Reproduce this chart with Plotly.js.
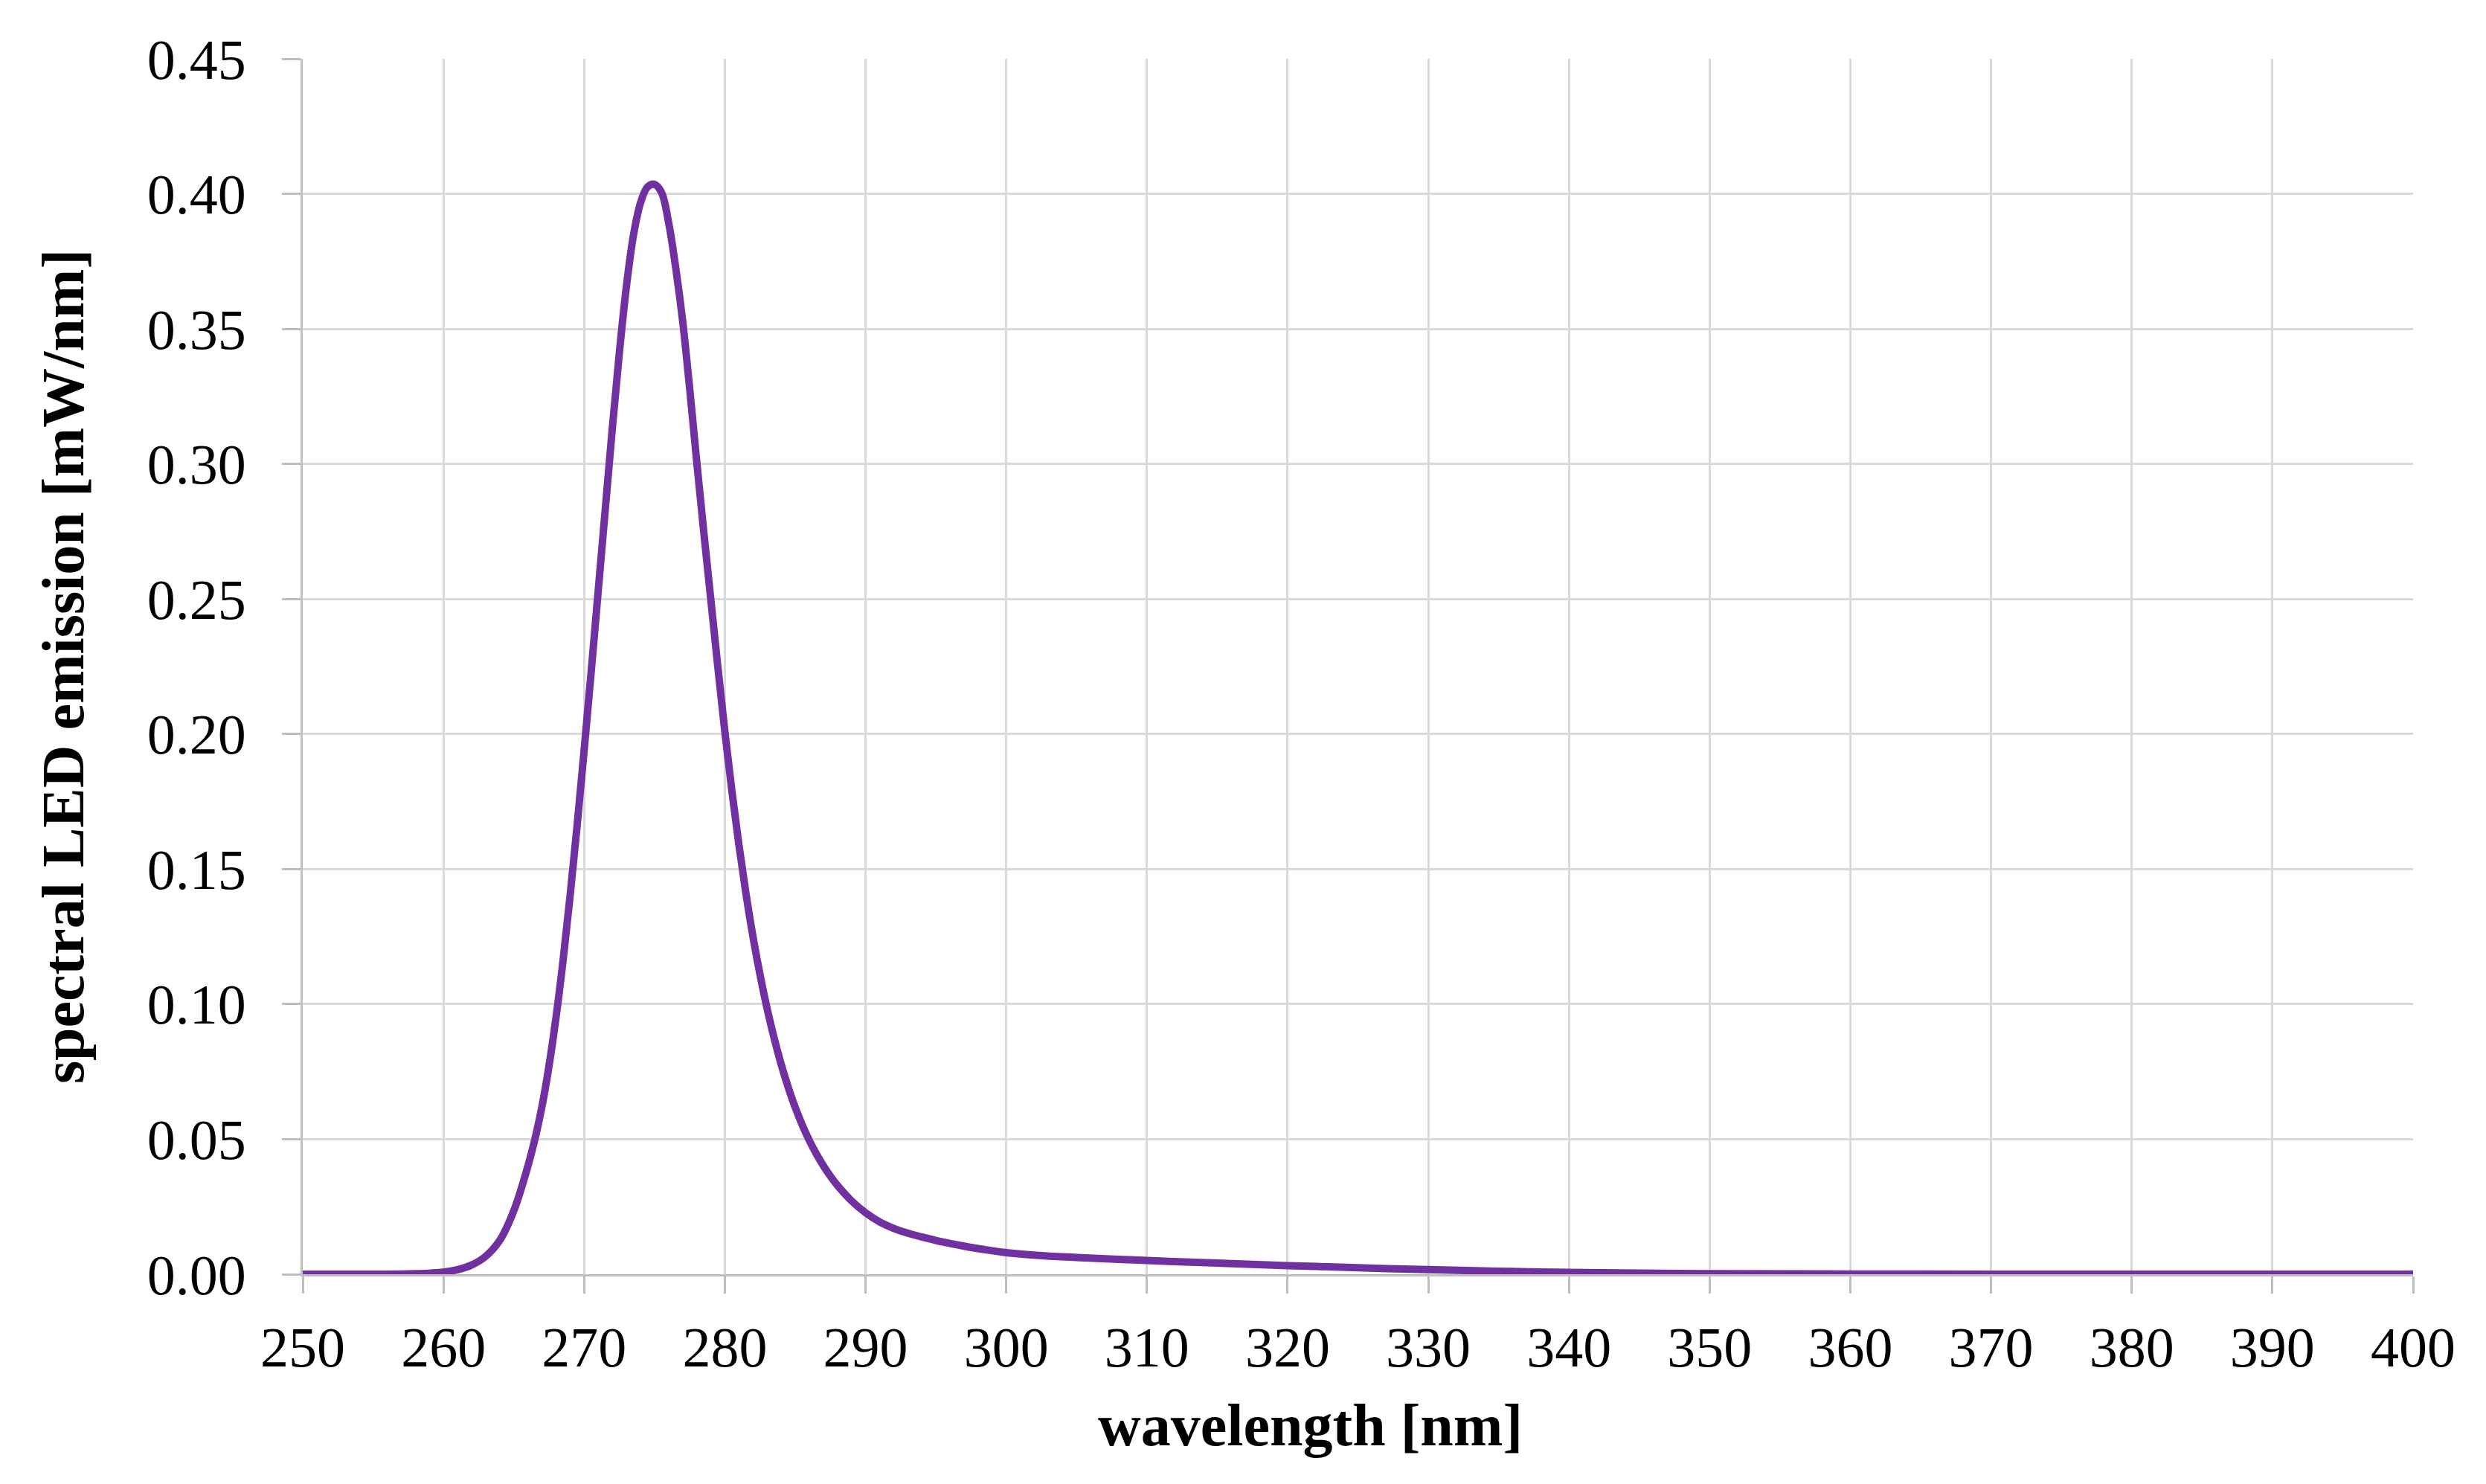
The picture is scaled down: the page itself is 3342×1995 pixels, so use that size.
<!DOCTYPE html>
<html>
<head>
<meta charset="utf-8">
<script src="https://cdn.plot.ly/plotly-3.0.1.min.js"></script>
<style>html,body{margin:0;padding:0;background:#fff;}#chart{width:3342px;height:1995px;}</style>
</head>
<body>
<div id="chart"></div>
<script>
// wavelength [nm]
const wavelength = [250, 255, 258, 260, 261, 262, 263, 264, 265, 266, 266.5, 267, 267.5, 268, 268.5, 269, 269.5, 270, 270.5, 271, 271.5, 272, 272.5, 273, 273.5, 274, 274.5, 275, 275.5, 276, 276.5, 277, 277.5, 278, 278.5, 279, 279.5, 280, 280.5, 281, 281.5, 282, 282.5, 283, 283.5, 284, 284.5, 285, 285.5, 286, 286.5, 287, 287.5, 288, 289, 290, 291, 292, 293, 294, 295, 296, 297, 298, 299, 300, 302.5, 305, 310, 315, 320, 325, 330, 335, 340, 345, 350, 360, 370, 380, 390, 400];
// spectral LED emission [mW/nm]
const emission = [0, 0, 0.0002, 0.0008, 0.0017, 0.0034, 0.0066, 0.0125, 0.0235, 0.040, 0.050, 0.062, 0.077, 0.095, 0.116, 0.140, 0.166, 0.194, 0.223, 0.253, 0.283, 0.313, 0.341, 0.3655, 0.3845, 0.3965, 0.4025, 0.4035, 0.4005, 0.3895, 0.373, 0.353, 0.328, 0.301, 0.275, 0.250, 0.225, 0.201, 0.179, 0.159, 0.141, 0.125, 0.111, 0.0985, 0.0875, 0.0778, 0.0693, 0.0618, 0.0553, 0.0496, 0.0446, 0.0402, 0.0363, 0.0329, 0.0272, 0.0228, 0.0194, 0.0170, 0.0152, 0.0138, 0.0125, 0.0114, 0.0104, 0.0095, 0.0087, 0.0080, 0.0069, 0.0062, 0.0051, 0.0041, 0.0032, 0.0024, 0.0017, 0.0011, 0.0007, 0.0004, 0.0002, 0.0001, 0, 0, 0, 0];
const xTitle = "wavelength [nm]";
const yTitle = "spectral LED emission [mW/nm]";

const trace = {
  x: wavelength,
  y: emission,
  type: "scatter",
  mode: "lines",
  line: {color: "#7030a0", width: 10, shape: "spline", smoothing: 1},
  hoverinfo: "x+y"
};

const gridCol = "#d9d9d9";
const axisCol = "#bfbfbf";
const tickFont = {family: "Liberation Serif, Times New Roman, serif", size: 76, color: "#000"};
const titleFont = {family: "Liberation Serif, Times New Roman, serif", size: 80, color: "#000", weight: "bold"};

const layout = {
  width: 3342,
  height: 1995,
  margin: {l: 407, r: 98, t: 79, b: 282},
  paper_bgcolor: "#fff",
  plot_bgcolor: "#fff",
  showlegend: false,
  xaxis: {
    range: [250, 400],
    dtick: 10,
    tick0: 250,
    showgrid: true,
    gridcolor: gridCol,
    gridwidth: 3,
    zeroline: false,
    showline: true,
    linecolor: axisCol,
    linewidth: 3,
    ticks: "outside",
    ticklen: 23,
    tickwidth: 3,
    tickcolor: axisCol,
    ticklabelstandoff: 7,
    tickfont: tickFont
  },
  yaxis: {
    range: [0, 0.45],
    dtick: 0.05,
    tick0: 0,
    tickformat: ".2f",
    showgrid: true,
    gridcolor: gridCol,
    gridwidth: 3,
    zeroline: false,
    showline: true,
    linecolor: axisCol,
    linewidth: 3,
    ticks: "outside",
    ticklen: 25,
    tickwidth: 3,
    tickcolor: axisCol,
    ticklabelstandoff: 33,
    tickfont: tickFont,
    title: {text: "<b>" + yTitle + "</b>", font: titleFont, standoff: 59}
  },
  annotations: [{
    text: "<b>" + xTitle + "</b>",
    xref: "paper", yref: "paper",
    x: 0.4773, y: -0.1243,
    xanchor: "center", yanchor: "middle",
    showarrow: false,
    font: titleFont
  }]
};

Plotly.newPlot("chart", [trace], layout, {displayModeBar: false, staticPlot: true});
</script>
</body>
</html>
